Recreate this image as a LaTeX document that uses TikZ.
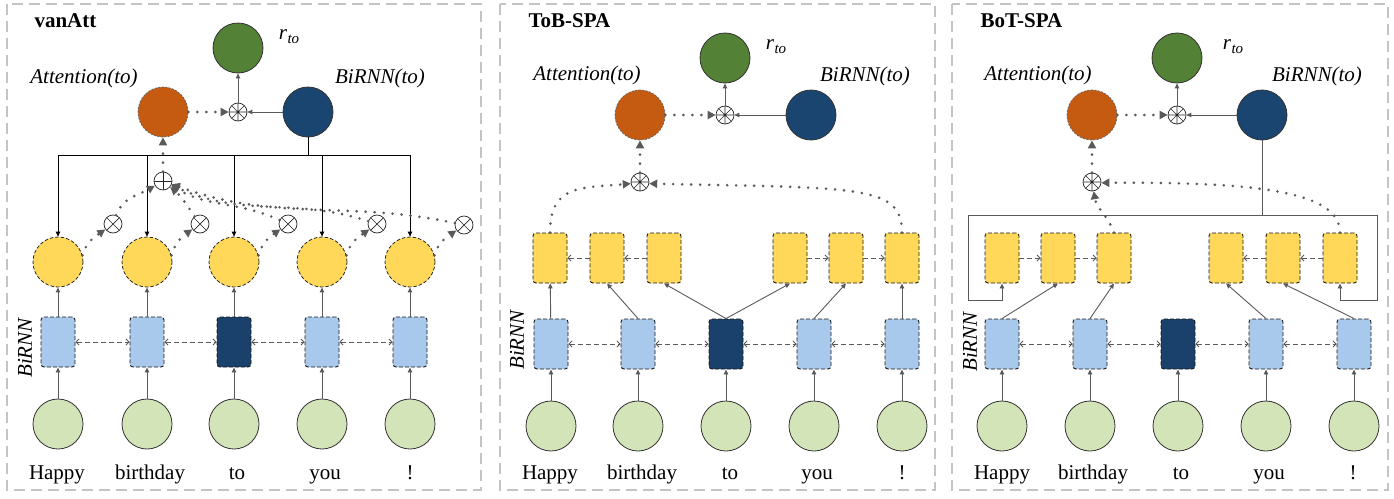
\documentclass[tikz,border=0pt]{standalone}
\usepackage{fontspec}
\setmainfont{Liberation Serif}
\usetikzlibrary{arrows.meta}
\definecolor{topgreen}{HTML}{538135}
\definecolor{attorange}{HTML}{C55A11}
\definecolor{birblue}{HTML}{1B4571}
\definecolor{darkrect}{HTML}{1A416C}
\definecolor{lblue}{HTML}{A8C8EC}
\definecolor{yel}{HTML}{FFD85A}
\definecolor{ingreen}{HTML}{D2E4B8}
\definecolor{lgray}{HTML}{5A5A5A}
\definecolor{framegray}{HTML}{C4C4C4}
\newcommand\rsub{\textit{r}\kern0.5pt\raisebox{-4pt}{\fontsize{15}{15}\selectfont\itshape to}}
\tikzset{
  frame/.style={draw=framegray, line width=1.4pt, dash pattern=on 11pt off 6pt},
  bigc/.style={circle, minimum size=50pt, inner sep=0pt, draw=black!80, line width=0.8pt},
  topc/.style={bigc, fill=topgreen},
  attc/.style={bigc, fill=attorange, draw=black!60, dash pattern=on 2pt off 1.5pt},
  birc/.style={bigc, fill=birblue},
  inp/.style={bigc, fill=ingreen},
  ycirc/.style={bigc, fill=yel, draw=black!85, dash pattern=on 3.5pt off 2pt},
  rnnbox/.style={rectangle, rounded corners=3pt, minimum width=34pt, minimum height=50pt, inner sep=0pt, draw=black!90, line width=0.9pt, dash pattern=on 4pt off 2pt},
  opbase/.style={circle, minimum size=18pt, inner sep=0pt, draw=black!85, fill=white, line width=0.7pt},
  otim/.style={opbase, path picture={\draw[line width=0.7pt] (path picture bounding box.north west) -- (path picture bounding box.south east) (path picture bounding box.north east) -- (path picture bounding box.south west);}},
  oplu/.style={opbase, path picture={\draw[line width=0.7pt] (path picture bounding box.north) -- (path picture bounding box.south) (path picture bounding box.east) -- (path picture bounding box.west);}},
  ostar/.style={opbase, path picture={\draw[line width=0.6pt] (path picture bounding box.north) -- (path picture bounding box.south) (path picture bounding box.east) -- (path picture bounding box.west) (path picture bounding box.north west) -- (path picture bounding box.south east) (path picture bounding box.north east) -- (path picture bounding box.south west);}},
  lbl/.style={font=\fontsize{21}{24}\selectfont\itshape},
  ttl/.style={anchor=base west, font=\fontsize{21}{24}\selectfont\bfseries},
  wrd/.style={anchor=base, font=\fontsize{21}{24}\selectfont},
  garr/.style={draw=lgray, line width=0.9pt, -{Triangle[length=5pt,width=4.5pt]}},
  gline/.style={draw=lgray, line width=0.9pt},
  blkarr/.style={draw=black, line width=0.9pt, -{Triangle[length=5pt,width=4.5pt]}},
  blkline/.style={draw=black, line width=0.9pt},
  dotarr/.style={draw=lgray, line width=2.9pt, line cap=round, dash pattern=on 0pt off 9pt, -{Triangle[length=8pt,width=8pt]}},
  dashboth/.style={draw=lgray, line width=0.9pt, dash pattern=on 5pt off 3pt, {Straight Barb[length=3pt,width=6pt]}-{Straight Barb[length=3pt,width=6pt]}},
  dashone/.style={draw=lgray, line width=0.9pt, dash pattern=on 5pt off 3pt, -{Straight Barb[length=3pt,width=6pt]}},
}
\begin{document}
\begin{tikzpicture}[x=1pt,y=-1pt]
\useasboundingbox (0,0) rectangle (1394,498);
\draw[frame] (7,4) rectangle (481,490);
\draw[frame] (500,4) rectangle (935,490);
\draw[frame] (952,4) rectangle (1388,490);

% ================= Panel 1 =================
\node[ttl] (t1) at (31,27) {vanAtt};
\node[topc] (g1) at (238,48) {};
\node[lbl] (rl1) at (289,37) {\rsub};
\node[lbl] (al1) at (84,78) {Attention(to)};
\node[attc] (o1) at (163,112) {};
\node[ostar] (s1) at (238,112) {};
\node[birc] (b1) at (308,112) {};
\node[lbl] (bl1) at (380,78) {BiRNN(to)};
\node[oplu] (p1) at (163,181) {};
\coordinate (bus1) at (308,155);
\node[lbl, rotate=90] (bir1) at (25,348) {BiRNN};
\foreach \i/\x/\c/\wx/\w/\ox/\oy in {1/58/lblue/57/Happy/113/224, 2/147/lblue/150/birthday/200/224, 3/234/darkrect/237/to/288/224, 4/322/lblue/325/you/377/224, 5/410/lblue/410/!/464/225}{
  \node[ycirc] (y1\i) at (\x,262) {};
  \node[rnnbox, fill=\c] (r1\i) at (\x,342) {};
  \node[inp] (i1\i) at (\x,424) {};
  \node[wrd] (w1\i) at (\wx,479) {\w};
  \node[otim] (x1\i) at (\ox,\oy) {};
  \draw[garr] (i1\i) -- (r1\i);
  \draw[garr] (r1\i) -- (y1\i);
  \draw[blkarr] (bus1 -| y1\i) -- (y1\i);
  \draw[dotarr] (y1\i.15) to[out=75,in=215] (x1\i);
}
\draw[blkline] (b1) -- (bus1);
\draw[blkline] (bus1 -| y11) -- (bus1 -| y15);
\foreach \a/\b in {1/2,2/3,3/4,4/5}{\draw[dashboth] (r1\a) -- (r1\b);}
\draw[dotarr] (x11) to[out=70,in=-150] (p1);
\draw[dotarr] (x12) to[out=125,in=-40] (p1);
\draw[dotarr] (x13) to[out=155,in=-30] (p1);
\draw[dotarr] (x14) to[out=162,in=-25] (p1);
\draw[dotarr] (x15) to[out=168,in=-20] (p1);
\draw[dotarr] (p1) -- (o1);
\draw[dotarr] (o1) -- (s1);
\draw[garr] (b1) -- (s1);
\draw[garr] (s1) -- (g1);

% ================= Panel 2 =================
\node[ttl] (t2) at (525,27) {ToB-SPA};
\node[topc] (g2) at (725,58) {};
\node[lbl] (rl2) at (776,47) {\rsub};
\node[lbl] (al2) at (587,75) {Attention(to)};
\node[attc] (o2) at (640,115) {};
\node[ostar] (s2) at (725,115) {};
\node[birc] (b2) at (811,115) {};
\node[lbl] (bl2) at (865,76) {BiRNN(to)};
\node[ostar] (q2) at (640,182) {};
\node[lbl, rotate=90] (bir2) at (517,340) {BiRNN};
\foreach \i/\x/\c/\wx/\w in {1/551/lblue/550/Happy, 2/638/lblue/642/birthday, 3/726/darkrect/730/to, 4/814/lblue/817/you, 5/902/lblue/902/!}{
  \node[rnnbox, fill=\c] (r2\i) at (\x,344) {};
  \node[inp] (i2\i) at (\x,426) {};
  \node[wrd] (w2\i) at (\wx,479) {\w};
  \draw[garr] (i2\i) -- (r2\i);
}
\foreach \i/\x in {1/550,2/607,3/664,4/790,5/846,6/902}{
  \node[rnnbox, fill=yel] (yr2\i) at (\x,258) {};
}
\foreach \a/\b in {1/2,2/3,3/4,4/5}{\draw[dashboth] (r2\a) -- (r2\b);}
\draw[dashone] (yr22) -- (yr21);
\draw[dashone] (yr23) -- (yr22);
\draw[dashone] (yr24) -- (yr25);
\draw[dashone] (yr25) -- (yr26);
\draw[garr] (r21) -- (yr21);
\draw[garr] (r22.north) -- (yr22.south);
\draw[garr] (r23.north) -- (yr23.south);
\draw[garr] (r23.north) -- (yr24.south);
\draw[garr] (r24.north) -- (yr25.south);
\draw[garr] (r25) -- (yr26);
\draw[dotarr] (yr21.north) .. controls (550,185) and (580,188) .. (q2.190);
\draw[dotarr] (yr26.north) .. controls (902,185) and (860,188) .. (q2.-10);
\draw[dotarr] (q2) -- (o2);
\draw[dotarr] (o2) -- (s2);
\draw[garr] (b2) -- (s2);
\draw[garr] (s2) -- (g2);

% ================= Panel 3 =================
\node[ttl] (t3) at (977,27) {BoT-SPA};
\node[topc] (g3) at (1177,58) {};
\node[lbl] (rl3) at (1233,47) {\rsub};
\node[lbl] (al3) at (1038,75) {Attention(to)};
\node[attc] (o3) at (1092,115) {};
\node[ostar] (s3) at (1177,115) {};
\node[birc] (b3) at (1262,115) {};
\node[lbl] (bl3) at (1317,76) {BiRNN(to)};
\node[ostar] (q3) at (1092,182) {};
\node[lbl, rotate=90] (bir3) at (970,342) {BiRNN};
\foreach \i/\x/\c/\wx/\w in {1/1002/lblue/1002/Happy, 2/1090/lblue/1093/birthday, 3/1178/darkrect/1181/to, 4/1266/lblue/1269/you, 5/1354/lblue/1353/!}{
  \node[rnnbox, fill=\c] (r3\i) at (\x,344) {};
  \node[inp] (i3\i) at (\x,426) {};
  \node[wrd] (w3\i) at (\wx,479) {\w};
  \draw[garr] (i3\i) -- (r3\i);
}
\foreach \i/\x in {1/1002,2/1058,3/1114,4/1226,5/1283,6/1340}{
  \node[rnnbox, fill=yel] (yr3\i) at (\x,258) {};
}
\foreach \a/\b in {1/2,2/3,3/4,4/5}{\draw[dashboth] (r3\a) -- (r3\b);}
\draw[dashone] (yr31) -- (yr32);
\draw[dashone] (yr32) -- (yr33);
\draw[dashone] (yr36) -- (yr35);
\draw[dashone] (yr35) -- (yr34);
\draw[garr] (r31.north) -- (yr32.south);
\draw[garr] (r32.north) -- (yr33.south);
\draw[garr] (r34.north) -- (yr34.south);
\draw[garr] (r35.north) -- (yr35.south);
\coordinate (c3a) at (1262,215);
\coordinate (c3l) at (968,215);
\coordinate (c3r) at (1377,215);
\coordinate (c3ll) at (968,300);
\coordinate (c3rr) at (1377,300);
\draw[gline] (b3) -- (c3a);
\draw[gline] (c3l) -- (c3r);
\draw[garr] (c3l) -- (c3ll) -- (c3ll -| yr31) -- (yr31);
\draw[garr] (c3r) -- (c3rr) -- (c3rr -| yr36) -- (yr36);
\draw[dotarr] (yr33.north) to[out=110,in=-80] (q3);
\draw[dotarr] (yr36.north) .. controls (1340,190) and (1250,182) .. (q3.-5);
\draw[dotarr] (q3) -- (o3);
\draw[dotarr] (o3) -- (s3);
\draw[garr] (b3) -- (s3);
\draw[garr] (s3) -- (g3);
\end{tikzpicture}
\end{document}
